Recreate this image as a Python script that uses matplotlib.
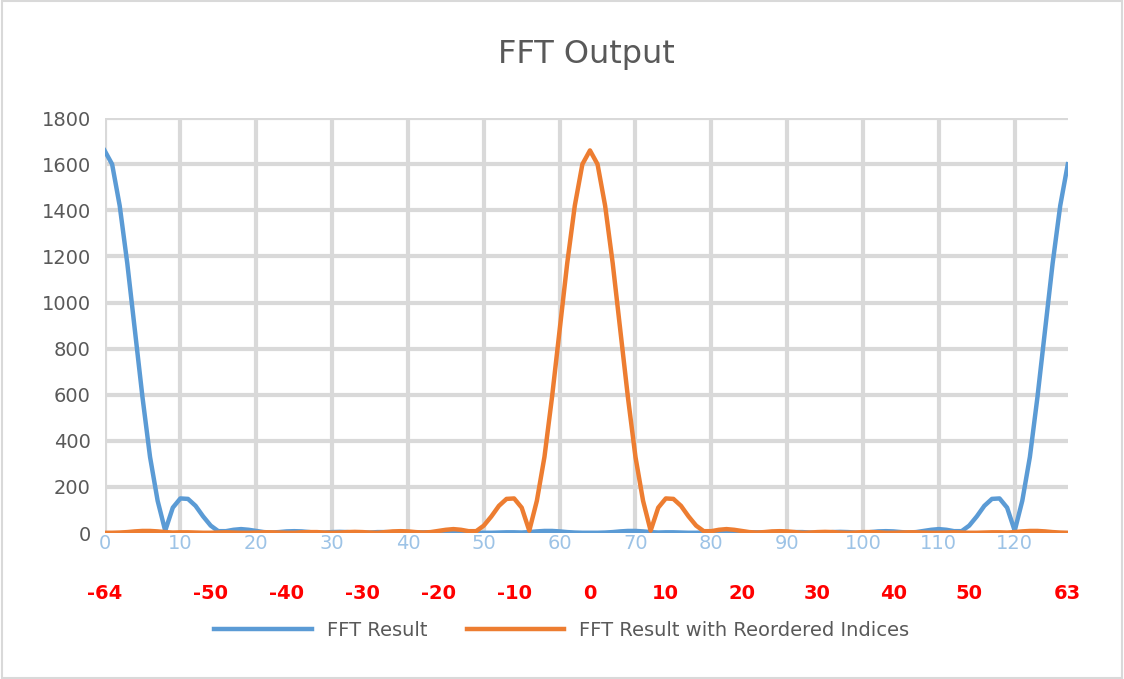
import numpy as np
import matplotlib.pyplot as plt
import matplotlib.transforms as mtransforms
from matplotlib.patches import Rectangle

# FFT magnitude, bins 0..127
fft_result = [
    1660, 1600, 1420, 1170, 880, 590, 330, 140, 10, 110,
    150, 148, 118, 72, 32, 8, 8, 14, 17, 14,
    9, 4, 2, 4, 7, 8, 7, 4, 1, 2,
    4, 5, 4, 2, 1, 2, 4, 4, 3, 1,
    1, 2, 3, 3, 2, 1, 1, 2, 3, 2,
    1, 1, 2, 3, 3, 2, 4, 7, 9, 9,
    7, 4, 2, 1, 1,
    1, 2, 4, 7, 9, 9, 7, 4, 2, 3, 3, 2, 1, 1,
    2, 3, 2, 1, 1, 2, 3, 3, 2, 1,
    1, 3, 4, 4, 2, 1, 2, 4, 5, 4,
    2, 1, 4, 7, 8, 7, 4, 2, 4, 9,
    14, 17, 14, 8, 8, 32, 72, 118, 148, 150,
    110, 10, 140, 330, 590, 880, 1170, 1420, 1600,
]
# same spectrum with indices reordered (zero frequency in the middle)
fft_reordered = np.roll(fft_result, 64)

bins = np.arange(len(fft_result))
top_ticks = list(range(0, 121, 10))
freq_labels = [-64, -50, -40, -30, -20, -10, 0, 10, 20, 30, 40, 50, 63]

blue = '#5B9BD5'
orange = '#ED7D31'

fig = plt.figure(figsize=(11.24, 6.79), dpi=100)
fig.patches.append(Rectangle((0.002, 0.002), 0.996, 0.996, transform=fig.transFigure,
                             fill=False, edgecolor='#D9D9D9', linewidth=1.5))
ax = fig.add_axes([0.093, 0.215, 0.857, 0.611])

ax.plot(bins, fft_result, color=blue, lw=3.2, label='FFT Result', zorder=3)
ax.plot(bins, fft_reordered, color=orange, lw=3.2,
        label='FFT Result with Reordered Indices', zorder=4)

ax.set_xlim(0, 127)
ax.set_ylim(0, 1800)
ax.set_yticks(range(0, 1801, 200))
ax.set_xticks(top_ticks)
ax.tick_params(axis='x', colors='#9DC3E6', labelsize=14, length=0, pad=1)
ax.tick_params(axis='y', colors='#595959', labelsize=14, length=0, pad=10)
ax.grid(True, color='#D9D9D9', lw=3)
ax.set_axisbelow(True)
for s in ax.spines.values():
    s.set_visible(False)

trans = mtransforms.blended_transform_factory(ax.transData, ax.transAxes)
for lab in freq_labels:
    ax.text(lab + 64, -0.145, str(lab), transform=trans, color='red',
            fontsize=14, fontweight='bold', ha='center', va='center')

ax.set_title('FFT Output', fontsize=23, color='#595959', pad=40)
fig.legend(loc='center', bbox_to_anchor=(0.5, 0.072), ncol=2, frameon=False,
           fontsize=14, labelcolor='#595959', handlelength=5, columnspacing=2)

fig.savefig('out.png', dpi=100)
